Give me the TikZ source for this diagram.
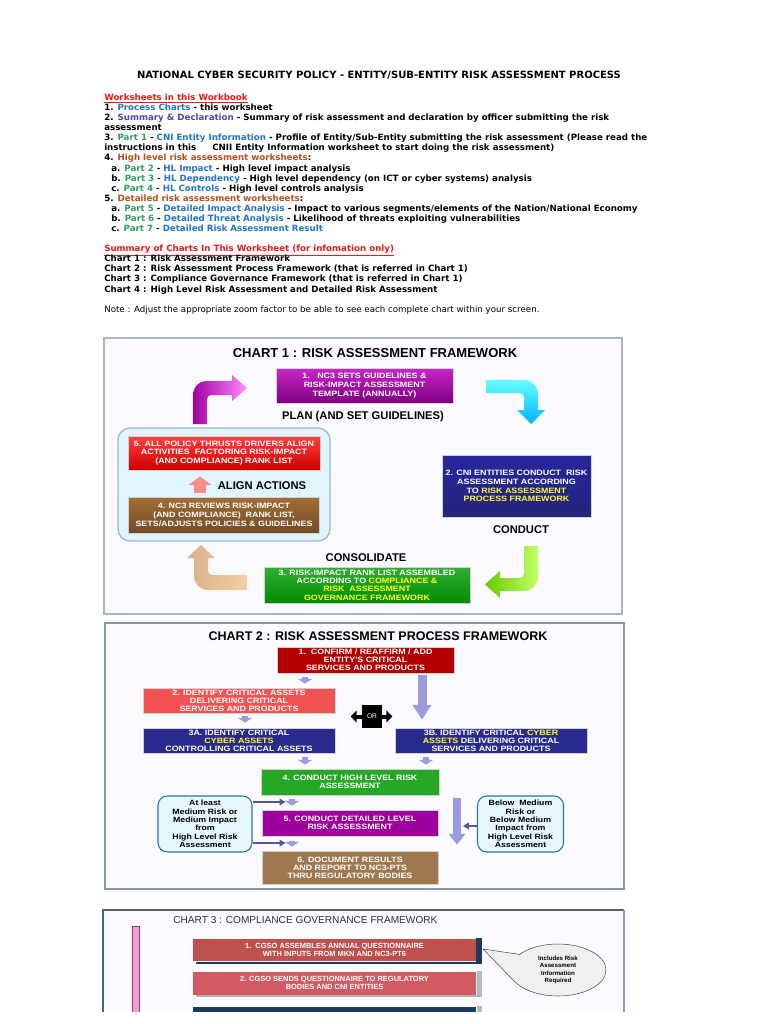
\documentclass[tikz,border=0pt]{standalone}
\usepackage{fontspec}
\setmainfont{Liberation Sans}
\newfontfamily\topfont{DejaVu Sans}
\newfontfamily\boxfont[FakeStretch=1.15]{Liberation Sans}
\usetikzlibrary{arrows.meta,shapes.geometric,calc}
\definecolor{cred}{HTML}{F01818}
\definecolor{cblue}{HTML}{2274D0}
\definecolor{cpurp}{HTML}{4848B0}
\definecolor{cgreen}{HTML}{2E9E5E}
\definecolor{cbrown}{HTML}{B5501C}
\definecolor{ylw}{HTML}{FFFF20}
\definecolor{lav}{HTML}{9C9CDC}
\definecolor{lavd}{HTML}{6E6EB4}
\definecolor{navy}{HTML}{2A2A8E}
\definecolor{navy3}{HTML}{1F3A5F}
\definecolor{q1}{HTML}{C0504D}
\definecolor{q2}{HTML}{D25A62}
\newcommand{\tblue}[1]{\textcolor{cblue}{#1}}
\newcommand{\tgreen}[1]{\textcolor{cgreen}{#1}}
\newcommand{\tbrown}[1]{\textcolor{cbrown}{#1}}
\newcommand{\tpurp}[1]{\textcolor{cpurp}{#1}}
\newcommand{\tylw}[1]{\textcolor{ylw}{#1}}
\tikzset{
 tline/.style={anchor=base west, inner sep=0pt, font=\topfont\bfseries\fontsize{6.5}{7}\selectfont},
 box/.style={inner sep=0pt, align=center, text=white, font=\boxfont\bfseries\fontsize{5.8}{6.1}\selectfont, draw=gray!35, line width=0.6pt},
 boxa/.style={box, font=\boxfont\bfseries\fontsize{5.8}{6.5}\selectfont},
 box3/.style={inner sep=0pt, align=center, text=white, font=\bfseries\fontsize{5.6}{5.6}\selectfont},
 lbl/.style={font=\bfseries\fontsize{8.4}{9}\selectfont, inner sep=0pt},
 ctitle/.style={font=\bfseries\fontsize{9.5}{10}\selectfont, inner sep=0pt},
 callout/.style={rounded corners=7pt, draw=lavd!60!cyan!70!black, fill=cyan!10, line width=0.8pt, align=center, inner sep=0pt, font=\boxfont\bfseries\fontsize{5.7}{6.3}\selectfont},
 fat/.style={line width=6.75pt, color=lav, -{Triangle[width=13.5pt,length=11pt]}},
 thin/.style={line width=6pt, color=lav, -{Triangle[width=12pt,length=8pt]}},
 small/.style={line width=5pt, color=lav, -{Triangle[width=10.5pt,length=3.5pt]}},
 navarr/.style={line width=1.3pt, color=lavd!80!black, -{Triangle[width=5pt,length=4.5pt]}},
 frame/.style={fill=blue!2!white, draw=gray!50!cyan!40!gray, line width=1.3pt},
}
\begin{document}
\begin{tikzpicture}[x=0.75pt,y=-0.75pt]
\useasboundingbox (0,0) rectangle (768,1024);
\fill[white] (0,0) rectangle (768,1024);
% ---------------- header text ----------------
\node[anchor=base, inner sep=0pt, font=\topfont\bfseries\fontsize{7.5}{8}\selectfont] (title) at (379,79) {NATIONAL CYBER SECURITY POLICY - ENTITY/SUB-ENTITY RISK ASSESSMENT PROCESS};
\node[tline] (l1) at (104,100) {\textcolor{cred}{\underline{Worksheets in this Workbook}}};
\node[tline] (l2) at (104,110) {1. \tblue{Process Charts} - this worksheet};
\node[tline] (l3) at (104,120) {2. \tpurp{Summary \& Declaration} - Summary of risk assessment and declaration by officer submitting the risk};
\node[tline] (l4) at (104,130) {assessment};
\node[tline] (l5) at (104,140.5) {3. \tgreen{Part 1} - \tblue{CNI Entity Information} - Profile of Entity/Sub-Entity submitting the risk assessment (Please read the};
\node[tline] (l6) at (104,150.5) {instructions in this\hspace{12pt}CNII Entity Information worksheet to start doing the risk assessment)};
\node[tline] (l7) at (104,160.5) {4. \tbrown{High level risk assessment worksheets}:};
\node[tline] (l8) at (111,171) {a. \tgreen{Part 2} - \tblue{HL Impact} - High level impact analysis};
\node[tline] (l9) at (111,181) {b. \tgreen{Part 3} - \tblue{HL Dependency} - High level dependency (on ICT or cyber systems) analysis};
\node[tline] (l10) at (111,191) {c. \tgreen{Part 4} - \tblue{HL Controls} - High level controls analysis};
\node[tline] (l11) at (104,201.5) {5. \tbrown{Detailed risk assessment worksheets}:};
\node[tline] (l12) at (111,211.5) {a. \tgreen{Part 5} - \tblue{Detailed Impact Analysis} - Impact to various segments/elements of the Nation/National Economy};
\node[tline] (l13) at (111,221.5) {b. \tgreen{Part 6} - \tblue{Detailed Threat Analysis} - Likelihood of threats exploiting vulnerabilities};
\node[tline] (l14) at (111,231.5) {c. \tgreen{Part 7} - \tblue{Detailed Risk Assessment Result}};
\node[tline] (l15) at (104,251.5) {\textcolor{cred}{\underline{Summary of Charts In This Worksheet (for infomation only)}}};
\node[tline] (l16) at (104,261.5) {Chart 1 : Risk Assessment Framework};
\node[tline] (l17) at (104,271.5) {Chart 2 : Risk Assessment Process Framework (that is referred in Chart 1)};
\node[tline] (l18) at (104,281.5) {Chart 3 : Compliance Governance Framework (that is referred in Chart 1)};
\node[tline] (l19) at (104,292) {Chart 4 : High Level Risk Assessment and Detailed Risk Assessment};
\node[tline, font=\topfont\fontsize{6.5}{7}\selectfont] (l20) at (104,312) {Note : Adjust the appropriate zoom factor to be able to see each complete chart within your screen.};
% ---------------- chart 1 ----------------
\draw[frame, draw=gray!35!cyan!25!gray!70] (104,338) rectangle (622,614);
\node[ctitle, font=\bfseries\fontsize{9.75}{10}\selectfont] (t1) at (375,353) {CHART 1 : RISK ASSESSMENT FRAMEWORK};
\node[draw=cyan!30!gray!70, fill=cyan!12, line width=1pt, rounded corners=9pt, minimum width=159pt, minimum height=84.75pt, inner sep=0pt] (cont) at (224,484.5) {};
\node[boxa, top color=violet!50!magenta!85!white, bottom color=violet!60!magenta!70!black, minimum width=132.75pt, minimum height=26.25pt] (a1) at (364.5,385.5) {1.\ \ \ NC3 SETS GUIDELINES \&\\RISK-IMPACT ASSESSMENT\\TEMPLATE (ANNUALLY)};
\node[boxa, top color=blue!55!black!85!white, bottom color=navy!85!black, minimum width=111.75pt, minimum height=46.5pt] (a2) at (516.5,486) {2. CNI ENTITIES CONDUCT\ \ RISK\\ASSESSMENT ACCORDING\\TO \tylw{RISK ASSESSMENT}\\\tylw{PROCESS FRAMEWORK}};
\node[boxa, font=\boxfont\bfseries\fontsize{5.8}{6.3}\selectfont, top color=green!60!black!80!white, bottom color=green!55!black, minimum width=154.5pt, minimum height=27pt] (a3) at (367,585) {3. RISK-IMPACT RANK LIST ASSEMBLED\\ACCORDING TO \tylw{COMPLIANCE \&}\\\tylw{RISK\ \ ASSESSMENT}\\\tylw{GOVERNANCE FRAMEWORK}};
\node[boxa, top color=brown!85!black, bottom color=brown!60!black, minimum width=143.25pt, minimum height=27pt] (a4) at (224,515) {4. NC3 REVIEWS RISK-IMPACT\\(AND COMPLIANCE)\ \ RANK LIST,\\SETS/ADJUSTS POLICIES \& GUIDELINES};
\node[boxa, top color=red!75!white, bottom color=red!80!black, minimum width=144pt, minimum height=25.5pt] (a5) at (224,453) {5. ALL POLICY THRUSTS DRIVERS ALIGN\\ACTIVITIES\ \ FACTORING RISK-IMPACT\\(AND COMPLIANCE) RANK LIST};
\node[lbl] (plan) at (363,417) {PLAN (AND SET GUIDELINES)};
\node[lbl] (align) at (262,486) {ALIGN ACTIONS};
\node[lbl] (cond) at (521,530) {CONDUCT};
\node[lbl] (cons) at (366,558) {CONSOLIDATE};
% curved arrows
\shade[left color=violet!60!magenta!90!black, right color=magenta!45!white]
 (193,424) -- (193,396) .. controls (193,388) and (198,381) .. (207,381) -- (232,381) -- (232,375) -- (247,388) -- (232,401) -- (232,395) -- (211,395) .. controls (209,395) and (207,397) .. (207,399) -- (207,424) -- cycle;
\shade[top color=cyan!60!white, bottom color=cyan!70!blue]
 (486,380) -- (524,380) .. controls (532,380) and (538,386) .. (538,394) -- (538,410) -- (545,410) -- (531,424) -- (517,410) -- (524,410) -- (524,397) .. controls (524,395) and (522,393) .. (520,393) -- (486,393) -- cycle;
\shade[left color=green!50!yellow!80!black, right color=green!40!yellow!60!white]
 (524,546) -- (538,546) -- (538,577) .. controls (538,585) and (532,591) .. (524,591) -- (500,591) -- (500,598) -- (485,584.5) -- (500,571) -- (500,578) -- (520,578) .. controls (522,578) and (524,576) .. (524,574) -- cycle;
\shade[left color=brown!60!white, right color=brown!40!orange!40!white]
 (247,575) -- (247,590) -- (208,590) .. controls (200,590) and (194,584) .. (194,576) -- (194,558) -- (187,558) -- (201,545) -- (215,558) -- (208,558) -- (208,571) .. controls (208,573) and (210,575) .. (212,575) -- cycle;
\coordinate (xpk) at (200,0);
\draw[line width=9pt, color=red!45!white, -{Triangle[width=17pt,length=6.5pt]}] ($(a4.north -| xpk)+(0,-4)$) -- ($(a5.south -| xpk)+(0,6)$);
% ---------------- chart 2 ----------------
\draw[frame, line width=1.8pt] (105,623) rectangle (624,889);
\node[ctitle, font=\bfseries\fontsize{9.4}{10}\selectfont] (t2) at (378,636) {CHART 2 : RISK ASSESSMENT PROCESS FRAMEWORK};
\node[box, fill=red!70!black, minimum width=132.75pt, minimum height=19.5pt] (c1) at (365.5,660) {1.\ \ CONFIRM / REAFFIRM / ADD\\ENTITY'S CRITICAL\\SERVICES AND PRODUCTS};
\node[box, fill=red!55!pink!95!black, minimum width=144pt, minimum height=18.75pt] (c2) at (239,700.5) {2. IDENTIFY CRITICAL ASSETS\\DELIVERING CRITICAL\\SERVICES AND PRODUCTS};
\node[box, fill=navy, minimum width=144pt, minimum height=18.75pt] (c3a) at (239,740.5) {3A. IDENTIFY CRITICAL\\\tylw{CYBER ASSETS}\\CONTROLLING CRITICAL ASSETS};
\node[box, fill=navy, minimum width=144pt, minimum height=18.75pt] (c3b) at (491,740.5) {3B. IDENTIFY CRITICAL \tylw{CYBER}\\\tylw{ASSETS} DELIVERING CRITICAL\\SERVICES AND PRODUCTS};
\node[box, fill=green!60!black!85!white, minimum width=133.5pt, minimum height=19.5pt] (c4) at (350,782) {4. CONDUCT HIGH LEVEL RISK\\ASSESSMENT};
\node[box, fill=violet!45!magenta!80!black, minimum width=132pt, minimum height=19.5pt] (c5) at (350,823) {5. CONDUCT DETAILED LEVEL\\RISK ASSESSMENT};
\node[box, fill=brown!75!black!85!white, minimum width=132pt, minimum height=24.75pt] (c6) at (350,867.5) {6. DOCUMENT RESULTS\\AND REPORT TO NC3-PTS\\THRU REGULATORY BODIES};
\node[callout, minimum width=70.5pt, minimum height=42pt] (cl) at (205,824) {At least\\Medium Risk or\\Medium Impact\\from\\High Level Risk\\Assessment};
\node[callout, minimum width=64.5pt, minimum height=42pt] (cr) at (520.5,824) {Below\ \ Medium\\Risk or\\Below Medium\\Impact from\\High Level Risk\\Assessment};
\node[fill=black, text=white, minimum width=15pt, minimum height=17.25pt, inner sep=0pt, font=\fontsize{5}{6}\selectfont] (or) at (372,716.5) {OR};
\draw[black, line width=3pt, -{Triangle[width=9pt,length=4.5pt]}] (or.west) -- ++(-11,0);
\draw[black, line width=3pt, -{Triangle[width=9pt,length=4.5pt]}] (or.east) -- ++(10,0);
\coordinate (xs1) at (305,0);
\coordinate (xs2) at (245,0);
\coordinate (xs3) at (426,0);
\coordinate (xs4) at (292,0);
\coordinate (xb1) at (422,0);
\coordinate (xb2) at (457,0);
\draw[small] ($(c1.south -| xs1)+(0,4)$) -- ($(c2.north -| xs1)+(0,-4)$);
\draw[small] ($(c2.south -| xs2)+(0,3)$) -- ($(c3a.north -| xs2)+(0,-5)$);
\draw[small] ($(c3a.south -| xs1)+(0,4)$) -- ($(c4.north -| xs1)+(0,-4)$);
\draw[small] ($(c3b.south -| xs3)+(0,4)$) -- ($(c4.north -| xs3)+(0,-4)$);
\draw[small] ($(c4.south -| xs4)+(0,4)$) -- ($(c5.north -| xs4)+(0,-4)$);
\draw[small] ($(c5.south -| xs4)+(0,5)$) -- ($(c6.north -| xs4)+(0,-4)$);
\draw[fat] ($(c1.south -| xb1)+(0,2)$) -- ($(c3b.north -| xb1)+(0,-8)$);
\draw[thin] ($(c4.south -| xb2)+(0,3)$) -- ($(c6.north -| xb2)+(0,-6)$);
\draw[navarr] ($(cl.east)+(0,-22)$) -- ++(33,0);
\draw[navarr] ($(cl.east)+(0,19)$) -- ++(33,0);
\draw[navarr] ($(cr.west)+(0,2)$) -- ++(-14,0);
% ---------------- chart 3 ----------------
\fill[blue!2!white] (103,910) rectangle (624,1012);
\draw[navy3!80, line width=1.3pt] (103,1012) -- (103,910) -- (624,910);
\draw[gray!60!blue!60, line width=1pt] (624,910) -- (624,1012);
\node[anchor=west, inner sep=0pt, text=black!80, font=\fontsize{7.6}{9}\selectfont] (t3) at (173,920) {CHART 3 : COMPLIANCE GOVERNANCE FRAMEWORK};
\draw[fill=magenta!40!white, draw=magenta!50!black, line width=0.6pt] (132,926) rectangle (139,1012);
\fill[navy3] (476,938) rectangle (482,964);
\draw[navy3, line width=1.5pt] (196,963) -- (482,963);
\fill[gray!55] (477,971) rectangle (482,997);
\draw[gray!60, line width=1.5pt] (196,996) -- (482,996);
\node[box3, fill=q1, minimum width=212.25pt, minimum height=16.5pt] (d1) at (334.5,950) {1.\ \ CGSO ASSEMBLES ANNUAL QUESTIONNAIRE\\WITH INPUTS FROM MKN AND NC3-PT6};
\node[box3, fill=q2, minimum width=212.25pt, minimum height=17.25pt] (d2) at (334.5,983) {2. CGSO SENDS QUESTIONNAIRE TO REGULATORY\\BODIES AND CNI ENTITIES};
\fill[navy3] (193,1007) rectangle (476,1012);
\fill[gray!55] (477,1006) rectangle (482,1012);
\node[ellipse, draw=gray!60!black, fill=gray!12, minimum width=72pt, minimum height=39pt, inner sep=0pt, align=center, font=\bfseries\fontsize{4.6}{5.4}\selectfont] (ell) at (558,970) {Includes Risk\\Assessment\\Information\\Required};
\coordinate (tip) at (483,949);
\fill[gray!12] (ell.158) -- (tip) -- (ell.196) -- cycle;
\draw[gray!60!black, line width=0.4pt] (ell.158) -- (tip) -- (ell.196);
\fill[white] (0,1012) rectangle (768,1024);
\end{tikzpicture}
\end{document}
